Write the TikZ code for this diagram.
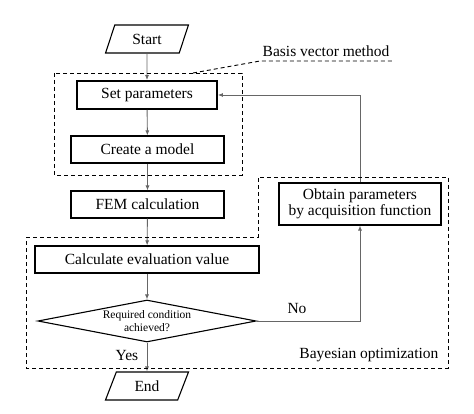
\documentclass[tikz,border=0pt]{standalone}
\usepackage{fontspec}
\setmainfont{Liberation Serif}
\usetikzlibrary{shapes.geometric,arrows.meta}

\begin{document}
\begin{tikzpicture}[x=1pt,y=-1pt,
  box/.style={draw,line width=1.1pt,inner sep=0pt,minimum height=27pt,font=\fontsize{15.5}{17}\selectfont},
  io/.style={draw,line width=1.1pt,trapezium,trapezium left angle=68,trapezium right angle=112,
    trapezium stretches=true,minimum width=83pt,minimum height=28pt,inner sep=0pt,
    font=\fontsize{15.5}{17}\selectfont},
  cond/.style={draw,line width=1.1pt,diamond,shape aspect=6,inner sep=0pt,align=center,
    minimum width=215pt,minimum height=42pt,font=\fontsize{11.5}{13.5}\selectfont},
  link/.style={draw=black!60,line width=0.9pt,-{Latex[length=5pt,width=4pt]}},
  group/.style={draw,line width=0.9pt,dash pattern=on 4pt off 3pt},
  lab/.style={font=\fontsize{15.5}{17}\selectfont}]
\useasboundingbox [fill=white] (0,0) rectangle (474,414);
\node [io] (start) at (147,39) {Start};
\node [box,line width=1.8pt,minimum width=140pt,minimum height=28pt] (setp) at (147,95) {Set parameters};
\node [box,minimum width=153pt] (model) at (147.5,149.5) {Create a model};
\node [box,minimum width=153pt] (fem) at (147.5,204.5) {FEM calculation};
\node [box,minimum width=224pt] (eval) at (147,259.5) {Calculate evaluation value};
\node [cond] (check) at (147,321) {Required condition\\achieved?};
\node [io] (stop) at (147,386) {End};
\node [box,minimum width=162pt,minimum height=42pt,align=center,
  font=\fontsize{15.5}{16}\selectfont] (obtain) at (360,204) {Obtain parameters\\by acquisition function};
% main flow
\draw [link] (start) -- (setp);
\draw [link] (setp) -- (model);
\draw [link] (model) -- (fem);
\draw [link] (fem) -- (eval);
\draw [link] (eval) -- (check);
\draw [link] (check) -- (stop);
\draw [link] (check.east) -| (obtain.south);
\draw [link] (obtain.north) |- (setp.east);
\node [lab] (yes) at (127,355) {Yes};
\node [lab] (no) at (297,309) {No};
% groups
\draw [group] (54,73) rectangle (242,175);
\coordinate (bend) at (260,61);
\draw [group] (193,73) -- (bend) -- (392,61);
\node [lab,above] (basis) at (326,60) {Basis vector method};
\draw [group] (26,237) -- (258,237) -- (258,177) -- (448,177) -- (448,368) -- (26,368) -- cycle;
\node [lab,anchor=east] (bayes) at (442,355) {Bayesian optimization};
\end{tikzpicture}
\end{document}
